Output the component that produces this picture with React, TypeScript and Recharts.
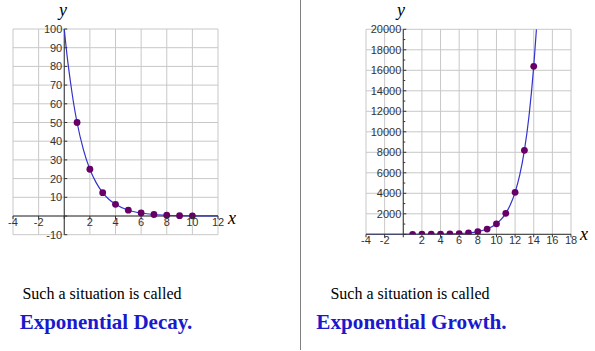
import {
  ComposedChart,
  Line,
  Scatter,
  XAxis,
  YAxis,
  CartesianGrid,
  ReferenceLine,
} from 'recharts'

// Exponential decay (left panel)
const decayCurveX = [0, 0.25, 0.5, 0.75, 1, 1.5, 2, 2.5, 3, 3.5, 4, 5, 6, 7, 8, 9, 10, 11, 12]
const decayCurveY = [100, 84, 71, 59.5, 50, 35.4, 25, 17.7, 12.5, 8.8, 6.25, 3.1, 1.6, 0.8, 0.4, 0.2, 0.1, 0.05, 0.02]
const decayPointX = [1, 2, 3, 4, 5, 6, 7, 8, 9, 10]
const decayPointY = [50, 25, 12.5, 6.25, 3.1, 1.6, 0.8, 0.4, 0.2, 0.1]
const decayXTicks = [-4, -2, 0, 2, 4, 6, 8, 10, 12]
const decayYTicks = [-10, 0, 10, 20, 30, 40, 50, 60, 70, 80, 90, 100]

// Exponential growth (right panel)
const growthCurveX = [-4, -2, 0, 2, 4, 6, 7, 8, 9, 10, 10.5, 11, 11.5, 12, 12.5, 13, 13.5, 14, 14.29]
const growthCurveY = [0.06, 0.25, 1, 4, 16, 64, 128, 256, 512, 1024, 1450, 2048, 2900, 4096, 5790, 8192, 11590, 16384, 20000]
const growthPointX = [1, 2, 3, 4, 5, 6, 7, 8, 9, 10, 11, 12, 13, 14]
const growthPointY = [2, 4, 8, 16, 32, 64, 128, 256, 512, 1024, 2048, 4096, 8192, 16384]
const growthXTicks = [-4, -2, 0, 2, 4, 6, 8, 10, 12, 14, 16, 18]
const growthGridY = [0, 2000, 4000, 6000, 8000, 10000, 12000, 14000, 16000, 18000, 20000]
const growthYTicks = [
  0, 1000, 2000, 3000, 4000, 5000, 6000, 7000, 8000, 9000, 10000,
  11000, 12000, 13000, 14000, 15000, 16000, 17000, 18000, 19000, 20000,
]

const zip = (xs: number[], ys: number[]) => xs.map((x, i) => ({ x, y: ys[i] }))

const LINE = '#3333cc'
const DOT = '#660066'
const AXIS = '#333'
const GRID = '#c8c8c8'
const TICK_FONT = { fontFamily: '"Liberation Sans", Arial, sans-serif', fontSize: 11, fill: '#333' }

interface PanelProps {
  width: number
  height: number
  // plot-area edges, in px inside the panel
  plot: { top: number; right: number; bottom: number; left: number }
  xDomain: [number, number]
  yDomain: [number, number]
  xTicks: number[]
  yTicks: number[]
  gridY: number[]
  yLabelStep: number
  curve: { x: number; y: number }[]
  points: { x: number; y: number }[]
}

function Panel({ width, height, plot, xDomain, yDomain, xTicks, yTicks, gridY, yLabelStep, curve, points }: PanelProps) {
  const plotW = width - plot.left - plot.right
  const plotH = height - plot.top - plot.bottom
  // pixel position of the x=0 / y=0 axes, used to place tick labels next to them
  const x0 = plot.left + (plotW * (0 - xDomain[0])) / (xDomain[1] - xDomain[0])
  const y0 = plot.top + (plotH * (yDomain[1] - 0)) / (yDomain[1] - yDomain[0])

  const XTick = ({ x, payload }: any) => {
    const v = payload.value
    return (
      <g>
        <line x1={x} x2={x} y1={y0} y2={y0 + 3} stroke={AXIS} />
        {v !== 0 && (
          <text x={x} y={y0 + 10} textAnchor="middle" {...TICK_FONT}>
            {v}
          </text>
        )}
      </g>
    )
  }

  const YTick = ({ y, payload }: any) => {
    const v = payload.value
    const major = v % yLabelStep === 0
    return (
      <g>
        <line x1={x0} x2={x0 + (major ? 3 : 2)} y1={y} y2={y} stroke={AXIS} />
        {major && v !== 0 && (
          <text x={x0 - 2} y={y + 4} textAnchor="end" {...TICK_FONT}>
            {v}
          </text>
        )}
      </g>
    )
  }

  // axes get 1px so Recharts still renders their (custom) ticks
  const margin = { top: plot.top, right: plot.right, bottom: plot.bottom - 1, left: plot.left - 1 }

  return (
    <ComposedChart width={width} height={height} margin={margin}>
      <CartesianGrid stroke={GRID} verticalValues={xTicks} horizontalValues={gridY} />
      <XAxis
        dataKey="x"
        type="number"
        domain={xDomain}
        ticks={xTicks}
        interval={0}
        allowDataOverflow
        height={1}
        axisLine={false}
        tickLine={false}
        tick={<XTick />}
      />
      <YAxis
        dataKey="y"
        type="number"
        domain={yDomain}
        ticks={yTicks}
        interval={0}
        allowDataOverflow
        width={1}
        axisLine={false}
        tickLine={false}
        tick={<YTick />}
      />
      <ReferenceLine x={0} stroke={AXIS} strokeWidth={1} />
      <ReferenceLine y={0} stroke={AXIS} strokeWidth={1} />
      <Line
        data={curve}
        dataKey="y"
        type="monotone"
        stroke={LINE}
        strokeWidth={1.2}
        dot={false}
        isAnimationActive={false}
      />
      <Scatter
        data={points}
        dataKey="y"
        isAnimationActive={false}
        shape={(p: any) => <circle cx={p.cx} cy={p.cy} r={3.4} fill={DOT} />}
      />
    </ComposedChart>
  )
}

const italic = {
  position: 'absolute' as const,
  fontFamily: '"Liberation Serif", "Times New Roman", serif',
  fontStyle: 'italic',
  fontSize: 18,
  lineHeight: '20px',
}

const caption = {
  position: 'absolute' as const,
  textAlign: 'center' as const,
  fontFamily: '"Liberation Serif", "Times New Roman", serif',
  whiteSpace: 'nowrap' as const,
}

export default function App() {
  return (
    <div style={{ position: 'absolute', left: 0, top: 0, width: 595, height: 351, background: '#fff', overflow: 'hidden' }}>
      <div style={{ position: 'absolute', left: 0, top: 0 }}>
        <Panel
          width={250}
          height={260}
          plot={{ top: 29, right: 32, bottom: 25.3, left: 13 }}
          xDomain={[-4, 12]}
          yDomain={[-10, 100]}
          xTicks={decayXTicks}
          yTicks={decayYTicks}
          gridY={decayYTicks}
          yLabelStep={10}
          curve={zip(decayCurveX, decayCurveY)}
          points={zip(decayPointX, decayPointY)}
        />
      </div>
      <div style={{ position: 'absolute', left: 340, top: 0 }}>
        <Panel
          width={255}
          height={260}
          plot={{ top: 29.3, right: 24, bottom: 25.7, left: 26 }}
          xDomain={[-4, 18]}
          yDomain={[0, 20000]}
          xTicks={growthXTicks}
          yTicks={growthYTicks}
          gridY={growthGridY}
          yLabelStep={2000}
          curve={zip(growthCurveX, growthCurveY)}
          points={zip(growthPointX, growthPointY)}
        />
      </div>

      <span style={{ ...italic, left: 59, top: 0 }}>y</span>
      <span style={{ ...italic, left: 228, top: 208 }}>x</span>
      <span style={{ ...italic, left: 397, top: 0 }}>y</span>
      <span style={{ ...italic, left: 580, top: 224 }}>x</span>

      <div style={{ position: 'absolute', left: 300, top: 0, width: 1, height: 350, background: '#808080' }} />

      <div style={{ ...caption, left: 2, width: 200, top: 284.6, fontSize: 16, lineHeight: '18px', color: '#000' }}>
        Such a situation is called
      </div>
      <div style={{ ...caption, left: 1, width: 210, top: 310, fontSize: 21, lineHeight: '24px', fontWeight: 'bold', color: '#1a1acc' }}>
        Exponential Decay.
      </div>
      <div style={{ ...caption, left: 310, width: 200, top: 284.6, fontSize: 16, lineHeight: '18px', color: '#000' }}>
        Such a situation is called
      </div>
      <div style={{ ...caption, left: 306.5, width: 210, top: 310, fontSize: 21.2, lineHeight: '24px', fontWeight: 'bold', color: '#1a1acc' }}>
        Exponential Growth.
      </div>
    </div>
  )
}
